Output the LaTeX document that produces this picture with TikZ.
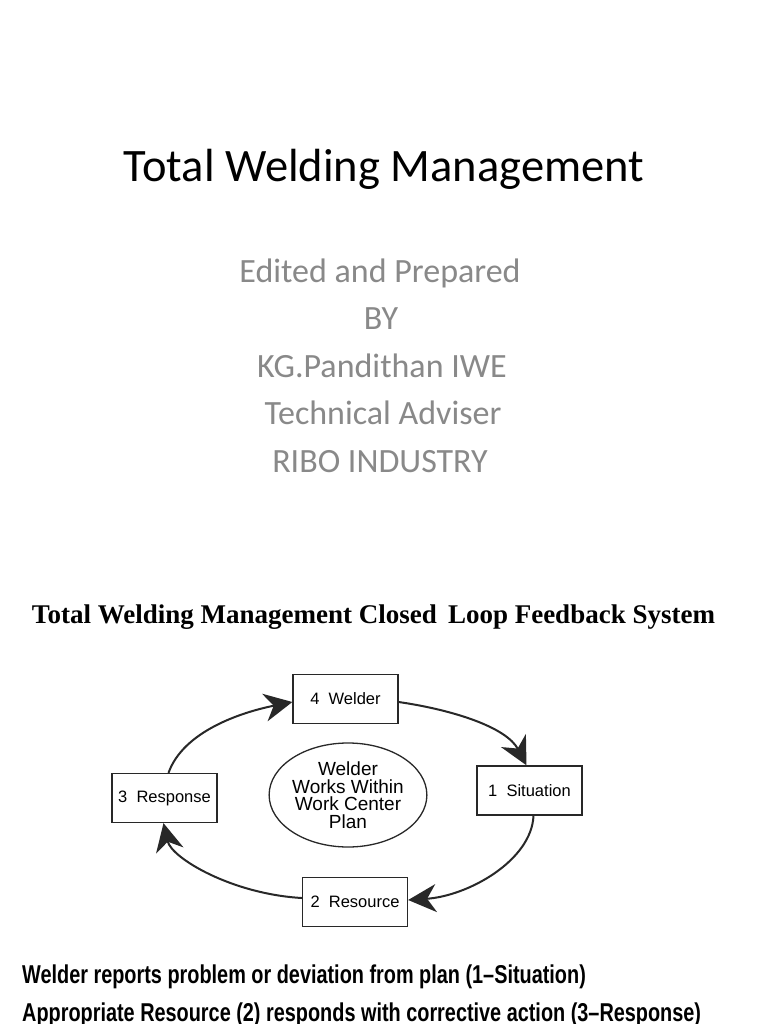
\documentclass[tikz,border=0pt]{standalone}
\usepackage{fontspec}
\setmainfont{Carlito}
\newfontfamily\diagserif{Liberation Serif}
\newfontfamily\boxfont{Liberation Sans}
\newfontfamily\narrowfont[FakeStretch=0.77]{Liberation Sans Bold}
\usetikzlibrary{arrows.meta,calc,shapes.geometric}
\definecolor{subgray}{RGB}{137,137,137}
\definecolor{linedark}{RGB}{40,40,40}
\tikzset{
  stepbox/.style={draw=linedark, line width=1.3pt, minimum width=105pt, minimum height=49pt, inner sep=0pt, font=\boxfont\fontsize{16.5}{18}\selectfont},
  loop/.style={draw=linedark, line width=2pt, -{Stealth[length=28pt,width=28pt,inset=9pt]}},
  subline/.style={text=subgray, font=\fontsize{34}{40}\selectfont, anchor=base, inner sep=0pt},
  bottomline/.style={anchor=base west, inner sep=0pt, font=\narrowfont\fontsize{25.8}{30}\selectfont},
}
\begin{document}
\begin{tikzpicture}[x=1pt,y=-1pt]
\path[use as bounding box, fill=white] (0,0) rectangle (768,1024);
\node[font=\fontsize{46.5}{52}\selectfont, anchor=base, inner sep=0pt] (title) at (384,182) {Total Welding Management};
\node[subline] (s1) at (380,282) {Edited and Prepared};
\node[subline] (s2) at (381,329.5) {BY};
\node[subline] (s3) at (382,377) {KG.Pandithan IWE};
\node[subline] (s4) at (383,424.5) {Technical Adviser};
\node[subline] (s5) at (380,472) {RIBO INDUSTRY};
\node[font=\diagserif\bfseries\fontsize{27}{30}\selectfont] (dtitle) at (373.5,617) {Total Welding Management Closed\, Loop Feedback System};
\node[stepbox] (welder) at (345.5,699) {4\ \ Welder};
\node[stepbox] (sit) at (529.5,790.5) {1\ \ Situation};
\node[stepbox] (resp) at (164.5,798) {3\ \ Response};
\node[stepbox] (res) at (355,902) {2\ \ Resource};
\node[draw=linedark, line width=1.3pt, ellipse, minimum width=140pt, minimum height=104pt, inner sep=0pt, align=center, font=\boxfont\fontsize{19}{17.5}\selectfont] (plan) at (348,795) {Welder\\Works Within\\Work Center\\Plan};
\draw[loop] ([yshift=-3pt]welder.east) .. controls +(55,8) and +(-20,-38) .. ([xshift=-3pt]sit.north);
\draw[loop] ([xshift=4pt]sit.south) .. controls +(-2,45) and +(60,-4) .. ([yshift=2pt]res.east);
\draw[loop] ([yshift=4pt]res.west) .. controls +(-70,-4) and +(8,35) .. ([xshift=-1pt]resp.south);
\draw[loop] ([xshift=4pt]resp.north) .. controls +(15,-42) and +(-50,10) .. ([yshift=-3pt]welder.west);
\node[bottomline] (l1) at (22,983.3) {Welder reports problem or deviation from plan (1–Situation)};
\node[bottomline] (l2) at (22,1021) {Appropriate Resource (2) responds with corrective action (3–Response)};
\end{tikzpicture}
\end{document}
